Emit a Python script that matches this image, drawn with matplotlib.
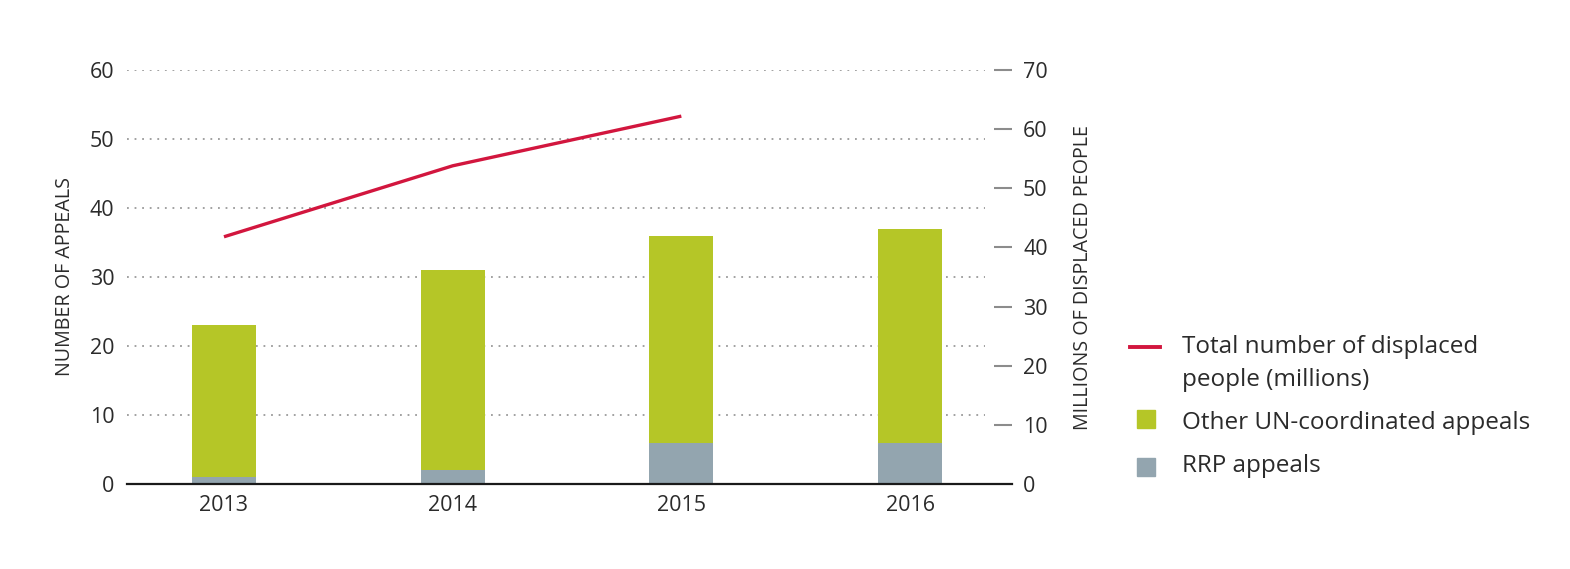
import numpy as np
import matplotlib.pyplot as plt
from matplotlib.lines import Line2D
from matplotlib.patches import Rectangle

plt.rcParams['font.family'] = ['Open Sans', 'DejaVu Sans']

# data
years = ['2013', '2014', '2015', '2016']
rrp = [1, 2, 6, 6]
other = [22, 29, 30, 31]
displaced_years = ['2013', '2014', '2015']
displaced = [41.8, 53.8, 62.2]

green = '#b5c627'
grey = '#93a5af'
red = '#d2163e'
txt = '#2b2b2b'

fig = plt.figure(figsize=(15.7, 5.69), dpi=100)
ax = fig.add_axes([127 / 1570, 1 - 484 / 569, (1012 - 127) / 1570, (484 - 70) / 569])

x = np.arange(len(years))
w = 0.28
ax.bar(x, rrp, width=w, color=grey, zorder=3)
ax.bar(x, other, width=w, bottom=rrp, color=green, zorder=3)

ax.set_xlim(-0.424, 3.446)
ax.set_ylim(0, 60)
ax.set_yticks(np.arange(0, 61, 10))
ax.set_xticks(x)
ax.set_xticklabels(years)

# dotted gridlines stop before the right-hand ticks
gx = (985 - 127) / (1012 - 127)
for v in np.arange(10, 61, 10):
    ax.axhline(v, xmin=0, xmax=gx, color='#9a9a9a', lw=1.3, ls=(0, (1, 3.2)), zorder=1)

for s in ['top', 'left', 'right']:
    ax.spines[s].set_visible(False)
ax.spines['bottom'].set_color('#1a1a1a')
ax.spines['bottom'].set_linewidth(1.6)
ax.spines['bottom'].set_zorder(4)
ax.tick_params(axis='y', length=0, pad=9, labelsize=15.5, labelcolor=txt)
ax.tick_params(axis='x', length=0, pad=8, labelsize=15.5, labelcolor=txt)
ax.set_ylabel('NUMBER OF APPEALS', fontsize=14.2, color=txt, labelpad=11)

ax2 = ax.twinx()
ax2.set_ylim(0, 70)
ax2.set_yticks(np.arange(0, 71, 10))
for s in ['top', 'left', 'right', 'bottom']:
    ax2.spines[s].set_visible(False)
ax2.tick_params(axis='y', direction='in', length=13, width=1.5, color='#8c8c8c',
                pad=8, labelsize=15.5, labelcolor=txt)
ax2.yaxis.get_major_ticks()[0].tick2line.set_visible(False)
ax2.set_ylabel('MILLIONS OF DISPLACED PEOPLE', fontsize=14.2, color=txt, labelpad=18)

lx = [years.index(y) for y in displaced_years]
ax2.plot(lx, displaced, color=red, lw=2.4, solid_capstyle='butt', zorder=5)

# legend
fig.add_artist(Line2D([1130 / 1570, 1160 / 1570], [1 - 347 / 569] * 2, color=red, lw=2.8,
                      transform=fig.transFigure))
fig.add_artist(Rectangle((1137 / 1570, 1 - 428 / 569), 18 / 1570, 18 / 569, color=green,
                         transform=fig.transFigure))
fig.add_artist(Rectangle((1137 / 1570, 1 - 476 / 569), 18 / 1570, 18 / 569, color=grey,
                         transform=fig.transFigure))
fs = 17.5
fig.text(1182 / 1570, 1 - 347 / 569, 'Total number of displaced', fontsize=fs, color=txt, va='center')
fig.text(1182 / 1570, 1 - 380 / 569, 'people (millions)', fontsize=fs, color=txt, va='center')
fig.text(1182 / 1570, 1 - 423 / 569, 'Other UN-coordinated appeals', fontsize=fs, color=txt, va='center')
fig.text(1182 / 1570, 1 - 466 / 569, 'RRP appeals', fontsize=fs, color=txt, va='center')

fig.savefig('out.png', dpi=100)
